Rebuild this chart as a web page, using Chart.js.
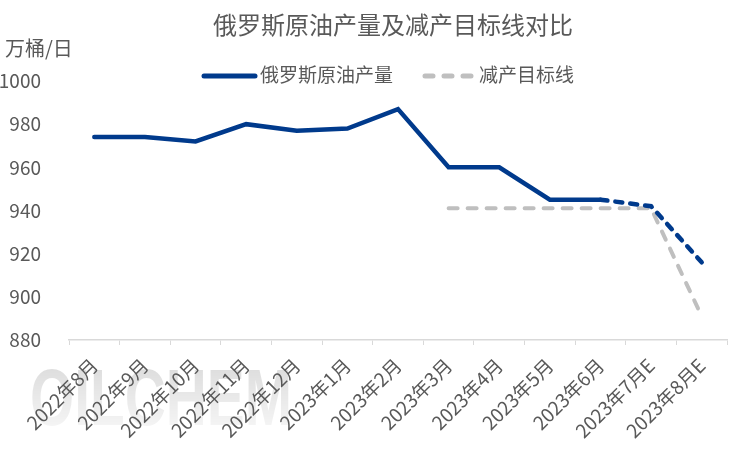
<!DOCTYPE html>
<html>
<head>
<meta charset="utf-8">
<script src="https://cdn.jsdelivr.net/npm/chart.js@4"></script>
<style>
  html, body { margin: 0; padding: 0; background: #fff; }
  #wrap { width: 750px; height: 450px; }
</style>
</head>
<body>
<div id="wrap"><canvas id="oilChart" width="750" height="450"></canvas></div>
<script>
const categories = ['2022年8月', '2022年9月', '2022年10月', '2022年11月', '2022年12月', '2023年1月',
    '2023年2月', '2023年3月', '2023年4月', '2023年5月', '2023年6月', '2023年7月E', '2023年8月E'];
const production = [974, 974, 972, 980, 977, 978, 987, 960, 960, 945, 945, 942, 916];
const target = [null, null, null, null, null, null, null, 941, 941, 941, 941, 941, 891];
const yTicks = [880, 900, 920, 940, 960, 980, 1000];

const FONT = '"Noto Sans CJK SC", "Noto Sans", sans-serif';
const TEXT = '#595959';
const BLUE = '#003A8C';
const GRAY = '#BFBFBF';

// 标题、单位、图例和水印
const decor = {
    id: 'decor',
    beforeDraw(chart) {
        const ctx = chart.ctx;
        ctx.save();
        const g = ctx.createLinearGradient(0, 362, 0, 428);
        g.addColorStop(0, 'rgba(0, 0, 0, 0.14)');
        g.addColorStop(1, 'rgba(0, 0, 0, 0.04)');
        ctx.fillStyle = g;
        ctx.font = 'bold 80px "Liberation Sans", sans-serif';
        ctx.textBaseline = 'alphabetic';
        ctx.textAlign = 'left';
        ctx.fillText('OILCHEM', 30, 425, 262);
        ctx.restore();
    },
    afterDraw(chart) {
        const ctx = chart.ctx;
        const ds = chart.data.datasets;
        ctx.save();
        ctx.fillStyle = TEXT;
        ctx.textBaseline = 'middle';
        ctx.textAlign = 'center';
        ctx.font = '24px ' + FONT;
        ctx.fillText('俄罗斯原油产量及减产目标线对比', 393, 25);

        ctx.textAlign = 'left';
        ctx.font = '20px ' + FONT;
        ctx.fillText('万桶/日', 5, 48);

        // 图例
        ctx.lineCap = 'round';
        ctx.lineWidth = 5;
        ctx.strokeStyle = ds[0].borderColor;
        ctx.beginPath();
        ctx.moveTo(204, 76);
        ctx.lineTo(255, 76);
        ctx.stroke();
        ctx.strokeStyle = ds[1].borderColor;
        ctx.setLineDash([8, 11]);
        ctx.beginPath();
        ctx.moveTo(425, 76);
        ctx.lineTo(473, 76);
        ctx.stroke();
        ctx.setLineDash([]);
        ctx.font = '19px ' + FONT;
        ctx.fillText(ds[0].label, 260, 75);
        ctx.fillText(ds[1].label, 479, 75);
        ctx.restore();
    }
};

const ctx = document.getElementById('oilChart').getContext('2d');
new Chart(ctx, {
    type: 'line',
    data: {
        labels: categories,
        datasets: [{
            label: '俄罗斯原油产量',
            data: production,
            borderColor: BLUE,
            borderWidth: 4.5,
            borderCapStyle: 'round',
            borderJoinStyle: 'miter',
            pointRadius: 0,
            tension: 0,
            segment: {
                borderDash: c => c.p0DataIndex >= 10 ? [7, 8] : undefined
            }
        }, {
            label: '减产目标线',
            data: target,
            borderColor: GRAY,
            borderWidth: 4,
            borderCapStyle: 'round',
            borderDash: [9, 10],
            pointRadius: 0,
            tension: 0
        }]
    },
    options: {
        responsive: false,
        animation: false,
        events: [],
        layout: {
            padding: { left: 0, right: 23, top: 81, bottom: 0 }
        },
        plugins: {
            legend: { display: false },
            title: { display: false },
            tooltip: { enabled: false }
        },
        scales: {
            y: {
                min: 880,
                max: 1000,
                afterFit: s => { s.width = 69; },
                afterBuildTicks: s => { s.ticks = yTicks.map(v => ({ value: v })); },
                ticks: {
                    color: TEXT,
                    padding: 20,
                    font: { family: FONT, size: 19 },
                    callback: v => String(v)
                },
                grid: { display: false },
                border: { display: false }
            },
            x: {
                offset: true,
                afterFit: s => { s.height = 110; },
                ticks: {
                    color: TEXT,
                    minRotation: 45,
                    maxRotation: 45,
                    autoSkip: false,
                    padding: 9,
                    font: { family: FONT, size: 19 }
                },
                grid: {
                    offset: true,
                    drawOnChartArea: false,
                    drawTicks: true,
                    tickLength: 5,
                    color: '#D9D9D9'
                },
                border: { display: true, color: '#D9D9D9', width: 1.5 }
            }
        }
    },
    plugins: [decor]
});
</script>
</body>
</html>
